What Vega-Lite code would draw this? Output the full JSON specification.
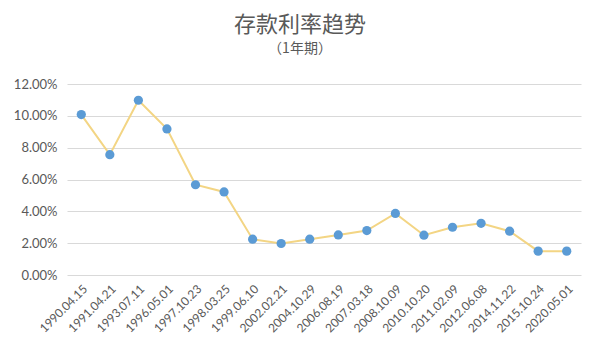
{
  "$schema": "https://vega.github.io/schema/vega-lite/v6.json",
  "width": 514,
  "height": 191,
  "autosize": {"type": "none"},
  "padding": {"left": 67, "top": 84, "right": 21, "bottom": 87},
  "background": "white",
  "title": {
    "text": "存款利率趋势",
    "subtitle": "（1年期）",
    "anchor": "middle",
    "frame": "group",
    "dx": -24,
    "offset": 21,
    "font": "Noto Sans CJK SC",
    "fontSize": 22,
    "fontWeight": "normal",
    "color": "#595959",
    "subtitleFont": "Noto Sans CJK SC",
    "subtitleFontSize": 14,
    "subtitleColor": "#595959",
    "subtitlePadding": 5
  },
  "data": {
    "values": [
      {"date": "1990.04.15", "rate": 0.1008},
      {"date": "1991.04.21", "rate": 0.0756},
      {"date": "1993.07.11", "rate": 0.1098},
      {"date": "1996.05.01", "rate": 0.0918},
      {"date": "1997.10.23", "rate": 0.0567},
      {"date": "1998.03.25", "rate": 0.0522},
      {"date": "1999.06.10", "rate": 0.0225},
      {"date": "2002.02.21", "rate": 0.0198},
      {"date": "2004.10.29", "rate": 0.0225},
      {"date": "2006.08.19", "rate": 0.0252},
      {"date": "2007.03.18", "rate": 0.0279},
      {"date": "2008.10.09", "rate": 0.0387},
      {"date": "2010.10.20", "rate": 0.025},
      {"date": "2011.02.09", "rate": 0.03},
      {"date": "2012.06.08", "rate": 0.0325},
      {"date": "2014.11.22", "rate": 0.0275},
      {"date": "2015.10.24", "rate": 0.015},
      {"date": "2020.05.01", "rate": 0.015}
    ]
  },
  "encoding": {
    "x": {
      "field": "date",
      "type": "ordinal",
      "sort": null,
      "scale": {"type": "point", "padding": 0.5},
      "axis": {
        "title": null,
        "labelAngle": -45,
        "labelFont": "Lato",
        "labelFontSize": 12,
        "labelColor": "#595959",
        "labelPadding": 8,
        "domain": false,
        "ticks": false,
        "grid": false
      }
    },
    "y": {
      "field": "rate",
      "type": "quantitative",
      "scale": {"domain": [0, 0.12], "nice": false},
      "axis": {
        "title": null,
        "format": ".2%",
        "values": [0, 0.02, 0.04, 0.06, 0.08, 0.1, 0.12],
        "labelFont": "Lato",
        "labelFontSize": 13,
        "labelColor": "#595959",
        "labelPadding": 10,
        "domain": false,
        "ticks": false,
        "grid": true,
        "gridColor": "#d9d9d9",
        "gridWidth": 1
      }
    }
  },
  "layer": [
    {"mark": {"type": "line", "color": "#F3D584", "strokeWidth": 2}},
    {"mark": {"type": "point", "filled": true, "color": "#5B9BD5", "opacity": 1, "size": 85}}
  ],
  "config": {"view": {"stroke": null}}
}
